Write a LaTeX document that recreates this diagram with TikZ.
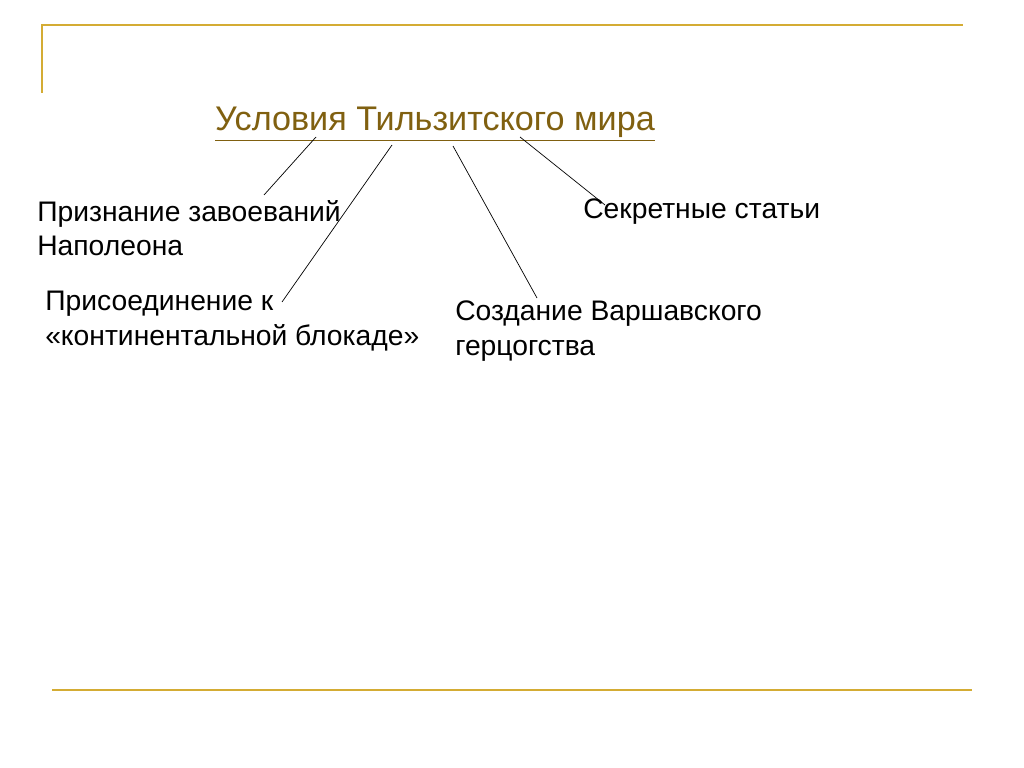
\documentclass[tikz,border=0pt]{standalone}
\usepackage{fontspec}
\setmainfont{Liberation Sans}
\definecolor{rulegold}{RGB}{212,172,52}
\definecolor{titlebrown}{RGB}{128,96,16}
\tikzset{
	point/.style={anchor=west, align=left, inner sep=0pt, font=\fontsize{20.1}{24.5}\selectfont},
	link/.style={draw=black, line width=0.5pt}
}
\begin{document}
\begin{tikzpicture}[x=0.025cm,y=-0.025cm]
		\useasboundingbox (0,0) rectangle (1024,768);
		% frame lines
		\draw[rulegold, line width=1.5pt] (42,93) -- (42,25) -- (963,25);
		\draw[rulegold, line width=1.5pt] (52,690) -- (972,690);

		\node[inner sep=0pt, text=titlebrown, font=\fontsize{24.3}{28}\selectfont] (title) at (435,124) {\underline{Условия Тильзитского мира}};

		\node[point] (conquest) at (37,228) {Признание завоеваний\\Наполеона};
		\node[point] (blockade) at (45,321) {Присоединение к\\«континентальной блокаде»};
		\node[point] (warsaw) at (455,331) {Создание Варшавского\\герцогства};
		\node[point] (secret) at (583,212) {Секретные статьи};

		% connectors
		\coordinate (t1) at (316,137); \coordinate (c1) at (264,195);
		\coordinate (t2) at (392,145); \coordinate (c2) at (282,302);
		\coordinate (t3) at (453,146); \coordinate (c3) at (537,298);
		\coordinate (t4) at (520,137); \coordinate (c4) at (605,205);
		\foreach \i in {1,2,3,4}{
			\draw[link] (t\i) -- (c\i);
		}
	\end{tikzpicture}
\end{document}
